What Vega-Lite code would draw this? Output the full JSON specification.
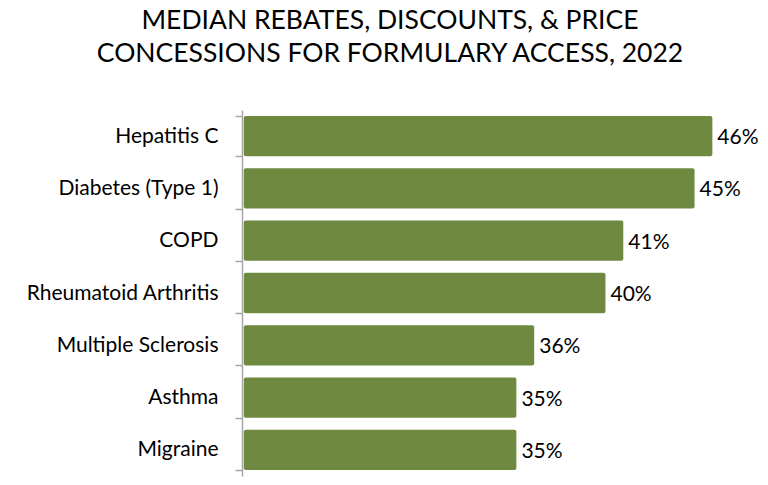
{
  "$schema": "https://vega.github.io/schema/vega-lite/v6.json",
  "width": 506,
  "height": 366,
  "autosize": {"type": "none"},
  "padding": {"left": 242, "top": 110, "right": 20, "bottom": 9},
  "background": "white",
  "title": {
    "text": ["MEDIAN REBATES, DISCOUNTS, & PRICE", "CONCESSIONS FOR FORMULARY ACCESS, 2022"],
    "font": "Lato",
    "fontSize": 26.5,
    "fontWeight": "normal",
    "color": "#000000",
    "lineHeight": 33,
    "anchor": "middle",
    "dx": -105,
    "offset": 32
  },
  "config": {"view": {"stroke": null}},
  "data": {
    "values": [
      {"condition": "Hepatitis C", "value": 46, "lbl": "46%"},
      {"condition": "Diabetes (Type 1)", "value": 45, "lbl": "45%"},
      {"condition": "COPD", "value": 41, "lbl": "41%"},
      {"condition": "Rheumatoid Arthritis", "value": 40, "lbl": "40%"},
      {"condition": "Multiple Sclerosis", "value": 36, "lbl": "36%"},
      {"condition": "Asthma", "value": 35, "lbl": "35%"},
      {"condition": "Migraine", "value": 35, "lbl": "35%"}
    ]
  },
  "encoding": {
    "y": {
      "field": "condition",
      "type": "nominal",
      "sort": null,
      "scale": {"paddingInner": 0.23, "paddingOuter": 0.115},
      "axis": {
        "title": null,
        "tickBand": "extent",
        "domainColor": "#a6a6a6",
        "domainWidth": 1.5,
        "tickColor": "#a6a6a6",
        "tickWidth": 1.5,
        "tickSize": 7,
        "labelFont": "Lato",
        "labelFontSize": 21,
        "labelColor": "#000000",
        "labelPadding": 17,
        "labelLimit": 300
      }
    },
    "x": {
      "field": "value",
      "type": "quantitative",
      "scale": {"domain": [19.6, 48], "zero": false, "nice": false},
      "axis": null
    }
  },
  "layer": [
    {
      "mark": {"type": "bar", "color": "#6f8a40", "cornerRadius": 2},
      "encoding": {"x2": {"datum": 19.7}}
    },
    {
      "mark": {"type": "text", "align": "left", "dx": 5, "dy": 2, "font": "Lato", "fontSize": 21, "color": "#000000"},
      "encoding": {"text": {"field": "lbl", "type": "nominal"}}
    }
  ]
}
